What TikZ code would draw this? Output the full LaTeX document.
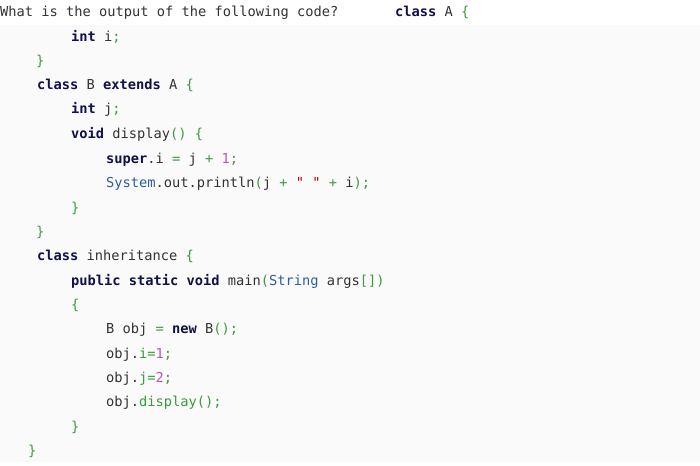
\documentclass[tikz,border=0pt]{standalone}
\usepackage{fontspec}
\setmonofont{DejaVu Sans Mono}
\definecolor{tx}{HTML}{333333}
\definecolor{pu}{HTML}{3C9A3C}
\definecolor{nu}{HTML}{C050C0}
\definecolor{ty}{HTML}{2D5D9F}
\definecolor{kw}{HTML}{10104A}
\definecolor{bg}{HTML}{FAFAFA}
\newcommand{\ckw}[1]{\textcolor{kw}{\bfseries #1}}
\newcommand{\cpu}[1]{\textcolor{pu}{#1}}
\newcommand{\cnu}[1]{\textcolor{nu}{#1}}
\newcommand{\cty}[1]{\textcolor{ty}{#1}}
\tikzset{ln/.style={anchor=base west,inner sep=0pt,font=\ttfamily\fontsize{13.7}{14}\selectfont,text=tx}}
\begin{document}
\begin{tikzpicture}[x=1pt,y=-1pt]
\useasboundingbox (0,0) rectangle (700,465);
\fill[white] (0,0) rectangle (700,465);
\fill[bg] (0,25) rectangle (700,462);
\node[ln] (l0) at (0,17) {What is the output of the following code?};
\node[ln] (l0b) at (395,17) {\ckw{class} A \cpu{\{}};
\node[ln] (l1) at (71,42) {\ckw{int} i\cpu{;}};
\node[ln] (l2) at (36,66) {\cpu{\}}};
\node[ln] (l3) at (37,90) {\ckw{class} B \ckw{extends} A \cpu{\{}};
\node[ln] (l4) at (71,114) {\ckw{int} j\cpu{;}};
\node[ln] (l5) at (71,139) {\ckw{void} display\cpu{() \{}};
\node[ln] (l6) at (106,163) {\ckw{super}.i \cpu{=} j \cpu{+} \cnu{1}\cpu{;}};
\node[ln] (l7) at (106,187) {\cty{System}.out.println\cpu{(}j \cpu{+} \textcolor{red!70!black}{"{} {}"} \cpu{+} i\cpu{);}};
\node[ln] (l8) at (71,212) {\cpu{\}}};
\node[ln] (l9) at (36,236) {\cpu{\}}};
\node[ln] (l10) at (37,260) {\ckw{class} inheritance \cpu{\{}};
\node[ln] (l11) at (71,285) {\ckw{public} \ckw{static} \ckw{void} main\cpu{(}\cty{String} args\cpu{[])}};
\node[ln] (l12) at (71,309) {\cpu{\{}};
\node[ln] (l13) at (106,333) {B obj \cpu{=} \ckw{new} B\cpu{();}};
\node[ln] (l14) at (106,358) {obj.\cpu{i=}\cnu{1}\cpu{;}};
\node[ln] (l15) at (106,382) {obj.\cpu{j=}\cnu{2}\cpu{;}};
\node[ln] (l16) at (106,406) {obj.\cpu{display();}};
\node[ln] (l17) at (71,431) {\cpu{\}}};
\node[ln] (l18) at (28,455) {\cpu{\}}};
\end{tikzpicture}
\end{document}
